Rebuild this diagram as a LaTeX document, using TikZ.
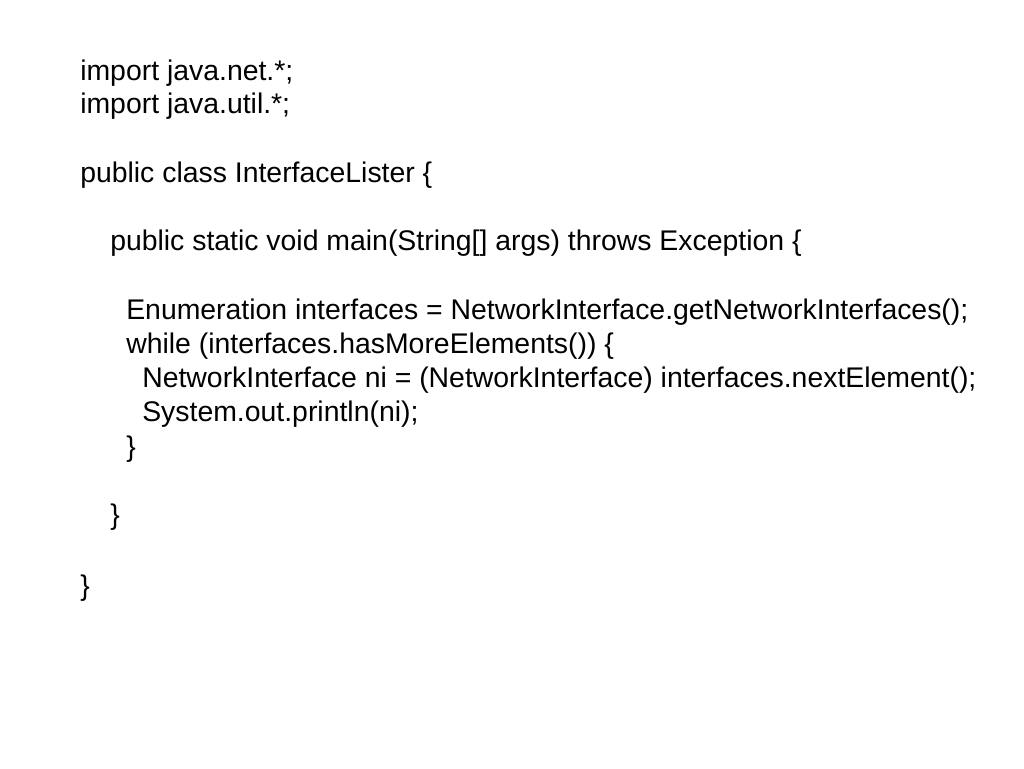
\documentclass[tikz,border=0pt]{standalone}
\usepackage{fontspec}
\setmainfont{Liberation Sans}
\usetikzlibrary{positioning}
\tikzstyle{code} = [anchor=west, inner sep=0pt, font=\fontsize{21.3}{24}\selectfont]
\begin{document}
\begin{tikzpicture}[x=0.75pt, y=-0.75pt]
	\useasboundingbox (0,0) rectangle (1024,768);
	\node (imp1) [code] at (80,73) {import java.net.*;};
	\node (imp2) [code] at (80,106) {import java.util.*;};
	\node (cls) [code] at (80,175) {public class InterfaceLister \{};
	\node (main) [code] at (110,243) {public static void main(String[] args) throws Exception \{};
	\node (enum) [code] at (126,312) {Enumeration interfaces = NetworkInterface.getNetworkInterfaces();};
	\node (loop) [code] at (126,346) {while (interfaces.hasMoreElements()) \{};
	\node (next) [code] at (142,380) {NetworkInterface ni = (NetworkInterface) interfaces.nextElement();};
	\node (print) [code] at (142,414) {System.out.println(ni);};
	\node (endloop) [code] at (126,449) {\}};
	\node (endmain) [code] at (110,517) {\}};
	\node (endcls) [code] at (80,588) {\}};
\end{tikzpicture}
\end{document}
